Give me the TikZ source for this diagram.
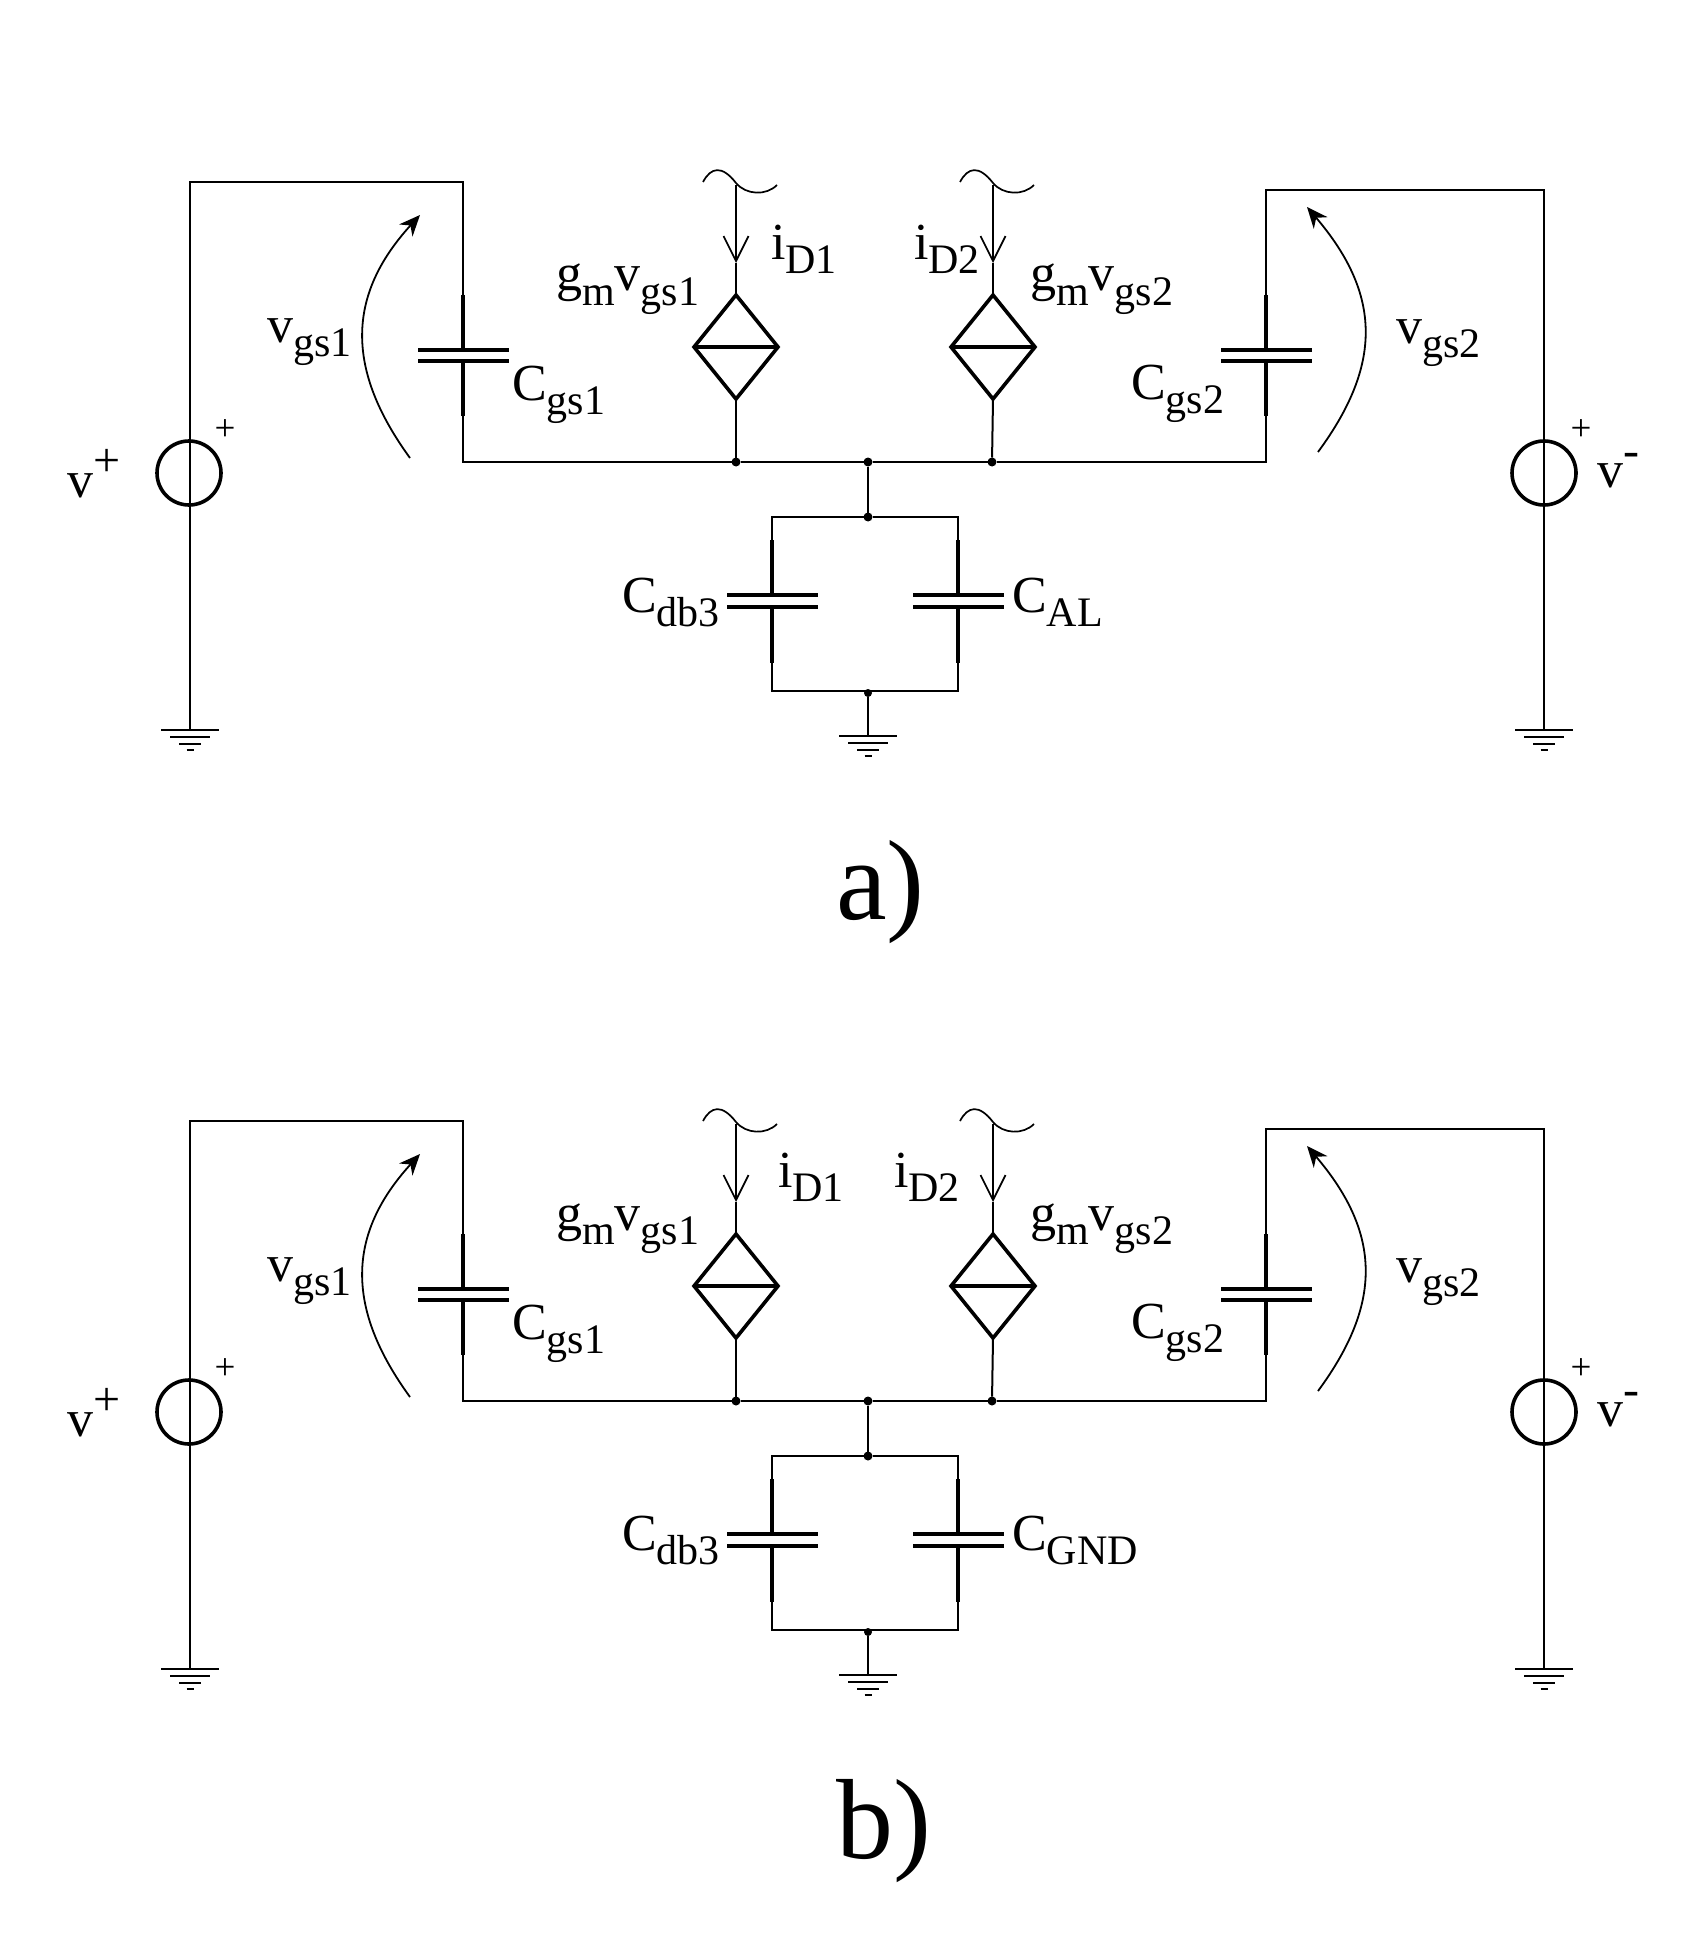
\documentclass[tikz,border=0pt]{standalone}
\usepackage{fontspec}
\usetikzlibrary{arrows.meta, shapes.geometric}
\setmainfont{Liberation Serif}
\newcommand{\lsub}[1]{\raisebox{-14pt}{\fontsize{42}{42}\selectfont #1}}
\newcommand{\lsup}[1]{\raisebox{21pt}{\fontsize{48}{48}\selectfont #1}}

\begin{document}
\begin{tikzpicture}[
      x=1pt, y=-1pt,
      wire/.style={draw, line width=2pt},
      lead/.style={draw, line width=4.4pt},
      barb/.style={draw, line width=1.7pt, -{Straight Barb[length=25pt, width=25pt, line width=1.7pt]}},
      volt/.style={draw, line width=1.8pt, -{Stealth[length=21pt, width=18pt]}},
      src/.style={draw, circle, line width=3.6pt, minimum size=64pt, inner sep=0pt, outer sep=0pt},
      cs/.style={draw, diamond, line width=3.6pt, minimum width=84pt, minimum height=104pt, inner sep=0pt, outer sep=0pt},
      plate/.style={fill, rectangle, minimum width=91pt, minimum height=4pt, inner sep=0pt, outer sep=0pt},
      dot/.style={fill, circle, minimum size=9pt, inner sep=0pt, outer sep=0pt},
      lbl/.style={anchor=base west, inner sep=0pt, font=\fontsize{52}{52}\selectfont},
      pol/.style={inner sep=0pt, font=\fontsize{37}{37}\selectfont},
      capt/.style={anchor=base west, inner sep=0pt, font=\fontsize{114}{114}\selectfont},
      gnd/.pic={
        \draw[line width=2.2pt] (-29,0) -- (29,0);
        \draw[line width=2.2pt] (-20,7) -- (20,7);
        \draw[line width=2.2pt] (-11,14) -- (11,14);
        \draw[line width=2.2pt] (-3.5,20) -- (3.5,20);
      },
      wave/.pic={
        \draw[line width=1.7pt] (-33,-3) .. controls (-25,-18) and (-14,-20) .. (0,-2)
          .. controls (10,10) and (30,11) .. (41,0);
      },
    ]
      \useasboundingbox (0,0) rectangle (1681,1942);

      % a)
      \coordinate (c1a) at (190,182);
      \coordinate (c2a) at (463,182);
      \coordinate (c3a) at (463,462);
      \coordinate (c4a) at (1266,190);
      \coordinate (c5a) at (1544,190);
      \coordinate (c6a) at (1266,462);
      \coordinate (g1a) at (190,730);
      \coordinate (g2a) at (1544,730);
      \coordinate (g3a) at (868,736);
      \node[src] (s1a) at (189,473) {};
      \node[src] (s2a) at (1544,473) {};
      \node[cs] (d1a) at (736,347) {};
      \node[cs] (d2a) at (993,347) {};
      \node[dot] (n1a) at (736,462) {};
      \node[dot] (n2a) at (868,462) {};
      \node[dot] (n3a) at (992,462) {};
      \node[dot] (n4a) at (868,517) {};
      \node[dot, minimum size=8pt] (n5a) at (868,693) {};
      \coordinate (w1a) at (736,185);
      \coordinate (w2a) at (993,185);
      \coordinate (a1a) at (736,263);
      \coordinate (a2a) at (993,263);
      \node[plate] (p1a) at (463,350) {};
      \node[plate] (q1a) at (463,361) {};
      \node[plate] (p2a) at (1266,350) {};
      \node[plate] (q2a) at (1266,361) {};
      \node[plate] (p3a) at (772,595) {};
      \node[plate] (q3a) at (772,607) {};
      \node[plate] (p4a) at (958,595) {};
      \node[plate] (q4a) at (958,607) {};
      \coordinate (l1a) at (463,295);
      \coordinate (m1a) at (463,416);
      \coordinate (l2a) at (1266,295);
      \coordinate (m2a) at (1266,416);
      \coordinate (r1a) at (772,517);
      \coordinate (r2a) at (958,517);
      \coordinate (r3a) at (772,691);
      \coordinate (r4a) at (958,691);
      \coordinate (l3a) at (772,540);
      \coordinate (m3a) at (772,663);
      \coordinate (l4a) at (958,540);
      \coordinate (m4a) at (958,663);
      \coordinate (b1a) at (410,458);
      \coordinate (e1a) at (420,215);
      \coordinate (b2a) at (1318,452);
      \coordinate (e2a) at (1307,207);
      \node[lbl] (t1a) at (67,497) {v\lsup{+}};
      \node[lbl] (t2a) at (1597,487) {v\lsup{-}};
      \node[pol] (t3a) at (225,430) {+};
      \node[pol] (t4a) at (1581,430) {+};
      \node[lbl] (t5a) at (267,342) {v\lsub{gs1}};
      \node[lbl] (t6a) at (1396,343) {v\lsub{gs2}};
      \node[lbl] (t7a) at (512,400) {C\lsub{gs1}};
      \node[lbl] (t8a) at (1131,399) {C\lsub{gs2}};
      \node[lbl] (t9a) at (556,291) {g\lsub{m}v\lsub{gs1}};
      \node[lbl] (t10a) at (1030,291) {g\lsub{m}v\lsub{gs2}};
      \node[lbl] (t11a) at (771,260) {i\lsub{D1}};
      \node[lbl] (t12a) at (914,260) {i\lsub{D2}};
      \node[lbl] (t13a) at (622,612) {C\lsub{db3}};
      \node[lbl] (t14a) at (1012,612) {C\lsub{AL}};
      \node[capt] (t15a) at (836,919) {a)};
      \draw[wire] (g1a) -- (c1a) -- (c2a) -- (l1a);
      \draw[wire] (m1a) -- (c3a) -- (n1a) -- (n2a) -- (n3a) -- (c6a) -- (m2a);
      \draw[wire] (l2a) -- (c4a) -- (c5a) -- (g2a);
      \draw[lead] (l1a) -- (p1a);
      \draw[lead] (q1a) -- (m1a);
      \draw[lead] (l2a) -- (p2a);
      \draw[lead] (q2a) -- (m2a);
      \draw[lead] (l3a) -- (p3a);
      \draw[lead] (q3a) -- (m3a);
      \draw[lead] (l4a) -- (p4a);
      \draw[lead] (q4a) -- (m4a);
      \draw[wire] (n2a) -- (n4a);
      \draw[wire] (l3a) -- (r1a) -- (n4a) -- (r2a) -- (l4a);
      \draw[wire] (m3a) -- (r3a) -- (r4a) -- (m4a);
      \draw[wire] (n5a) -- (g3a);
      \draw[barb] (w1a) -- (a1a);
      \draw[barb] (w2a) -- (a2a);
      \draw[wire] (a1a) -- (d1a.north);
      \draw[wire] (a2a) -- (d2a.north);
      \draw[wire] (d1a.south) -- (n1a);
      \draw[wire] (d2a.south) -- (n3a);
      \draw[lead, line width=3.6pt] (d1a.west) -- (d1a.east);
      \draw[lead, line width=3.6pt] (d2a.west) -- (d2a.east);
      \draw[volt] (b1a) .. controls (346,370) and (346,296) .. (e1a);
      \draw[volt] (b2a) .. controls (1382,365) and (1382,295) .. (e2a);
      \pic at (g1a) {gnd};
      \pic at (g2a) {gnd};
      \pic at (g3a) {gnd};
      \pic at (w1a) {wave};
      \pic at (w2a) {wave};

      % b)
      \coordinate (c1b) at (190,1121);
      \coordinate (c2b) at (463,1121);
      \coordinate (c3b) at (463,1401);
      \coordinate (c4b) at (1266,1129);
      \coordinate (c5b) at (1544,1129);
      \coordinate (c6b) at (1266,1401);
      \coordinate (g1b) at (190,1669);
      \coordinate (g2b) at (1544,1669);
      \coordinate (g3b) at (868,1675);
      \node[src] (s1b) at (189,1412) {};
      \node[src] (s2b) at (1544,1412) {};
      \node[cs] (d1b) at (736,1286) {};
      \node[cs] (d2b) at (993,1286) {};
      \node[dot] (n1b) at (736,1401) {};
      \node[dot] (n2b) at (868,1401) {};
      \node[dot] (n3b) at (992,1401) {};
      \node[dot] (n4b) at (868,1456) {};
      \node[dot, minimum size=8pt] (n5b) at (868,1632) {};
      \coordinate (w1b) at (736,1124);
      \coordinate (w2b) at (993,1124);
      \coordinate (a1b) at (736,1202);
      \coordinate (a2b) at (993,1202);
      \node[plate] (p1b) at (463,1289) {};
      \node[plate] (q1b) at (463,1300) {};
      \node[plate] (p2b) at (1266,1289) {};
      \node[plate] (q2b) at (1266,1300) {};
      \node[plate] (p3b) at (772,1534) {};
      \node[plate] (q3b) at (772,1546) {};
      \node[plate] (p4b) at (958,1534) {};
      \node[plate] (q4b) at (958,1546) {};
      \coordinate (l1b) at (463,1234);
      \coordinate (m1b) at (463,1355);
      \coordinate (l2b) at (1266,1234);
      \coordinate (m2b) at (1266,1355);
      \coordinate (r1b) at (772,1456);
      \coordinate (r2b) at (958,1456);
      \coordinate (r3b) at (772,1630);
      \coordinate (r4b) at (958,1630);
      \coordinate (l3b) at (772,1479);
      \coordinate (m3b) at (772,1602);
      \coordinate (l4b) at (958,1479);
      \coordinate (m4b) at (958,1602);
      \coordinate (b1b) at (410,1397);
      \coordinate (e1b) at (420,1154);
      \coordinate (b2b) at (1318,1391);
      \coordinate (e2b) at (1307,1146);
      \node[lbl] (t1b) at (67,1436) {v\lsup{+}};
      \node[lbl] (t2b) at (1597,1426) {v\lsup{-}};
      \node[pol] (t3b) at (225,1369) {+};
      \node[pol] (t4b) at (1581,1369) {+};
      \node[lbl] (t5b) at (267,1281) {v\lsub{gs1}};
      \node[lbl] (t6b) at (1396,1282) {v\lsub{gs2}};
      \node[lbl] (t7b) at (512,1339) {C\lsub{gs1}};
      \node[lbl] (t8b) at (1131,1338) {C\lsub{gs2}};
      \node[lbl] (t9b) at (556,1230) {g\lsub{m}v\lsub{gs1}};
      \node[lbl] (t10b) at (1030,1230) {g\lsub{m}v\lsub{gs2}};
      \node[lbl] (t11b) at (778,1187) {i\lsub{D1}};
      \node[lbl] (t12b) at (894,1187) {i\lsub{D2}};
      \node[lbl] (t13b) at (622,1550) {C\lsub{db3}};
      \node[lbl] (t14b) at (1012,1550) {C\lsub{GND}};
      \node[capt] (t15b) at (836,1858) {b)};
      \draw[wire] (g1b) -- (c1b) -- (c2b) -- (l1b);
      \draw[wire] (m1b) -- (c3b) -- (n1b) -- (n2b) -- (n3b) -- (c6b) -- (m2b);
      \draw[wire] (l2b) -- (c4b) -- (c5b) -- (g2b);
      \draw[lead] (l1b) -- (p1b);
      \draw[lead] (q1b) -- (m1b);
      \draw[lead] (l2b) -- (p2b);
      \draw[lead] (q2b) -- (m2b);
      \draw[lead] (l3b) -- (p3b);
      \draw[lead] (q3b) -- (m3b);
      \draw[lead] (l4b) -- (p4b);
      \draw[lead] (q4b) -- (m4b);
      \draw[wire] (n2b) -- (n4b);
      \draw[wire] (l3b) -- (r1b) -- (n4b) -- (r2b) -- (l4b);
      \draw[wire] (m3b) -- (r3b) -- (r4b) -- (m4b);
      \draw[wire] (n5b) -- (g3b);
      \draw[barb] (w1b) -- (a1b);
      \draw[barb] (w2b) -- (a2b);
      \draw[wire] (a1b) -- (d1b.north);
      \draw[wire] (a2b) -- (d2b.north);
      \draw[wire] (d1b.south) -- (n1b);
      \draw[wire] (d2b.south) -- (n3b);
      \draw[lead, line width=3.6pt] (d1b.west) -- (d1b.east);
      \draw[lead, line width=3.6pt] (d2b.west) -- (d2b.east);
      \draw[volt] (b1b) .. controls (346,1309) and (346,1235) .. (e1b);
      \draw[volt] (b2b) .. controls (1382,1304) and (1382,1234) .. (e2b);
      \pic at (g1b) {gnd};
      \pic at (g2b) {gnd};
      \pic at (g3b) {gnd};
      \pic at (w1b) {wave};
      \pic at (w2b) {wave};
    \end{tikzpicture}
\end{document}
